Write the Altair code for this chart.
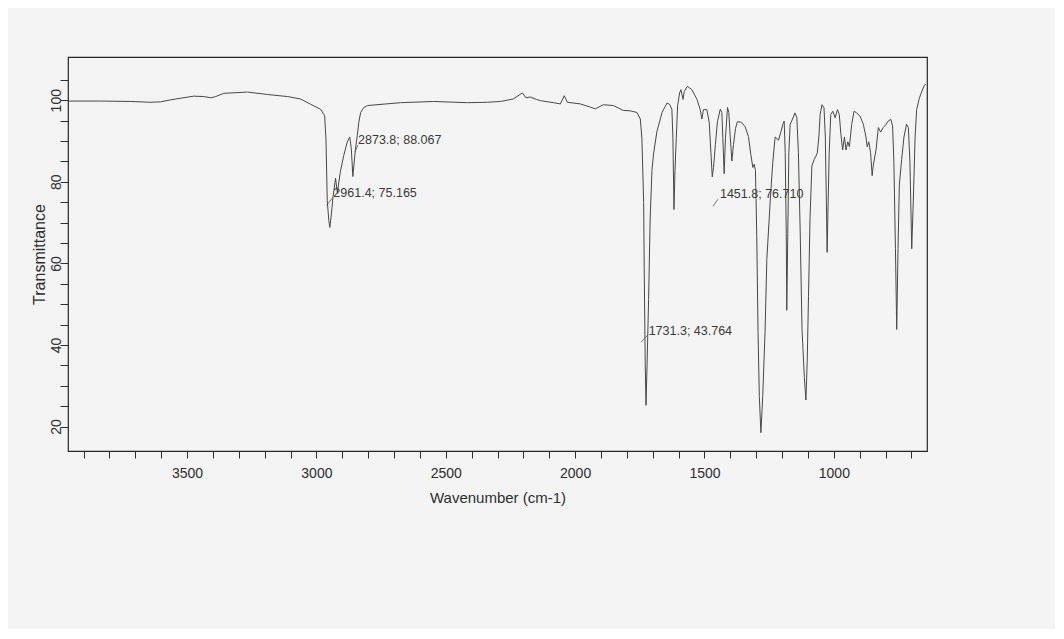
import altair as alt
import pandas as pd

# ---- spectrum ----
wavenumber = [
    3960, 3833, 3717, 3640, 3602, 3563, 3474, 3435, 3408, 3389, 3358, 3266, 3188, 3111, 3061,
    3022, 2984, 2968, 2963, 2958, 2952, 2948, 2942, 2936, 2926, 2919, 2907, 2894, 2881, 2871,
    2865, 2859, 2855, 2849, 2842, 2836, 2829, 2817, 2802, 2675, 2547, 2416, 2339, 2289, 2239,
    2204, 2190, 2173, 2150, 2134, 2084, 2057, 2042, 2030, 1980, 1941, 1922, 1891, 1852, 1814,
    1787, 1761, 1748, 1742, 1735, 1733, 1729, 1726, 1722, 1716, 1710, 1703, 1697, 1684, 1664,
    1645, 1635, 1626, 1622, 1618, 1614, 1609, 1604, 1596, 1591, 1583, 1578, 1566, 1549, 1529,
    1517, 1510, 1504, 1491, 1482, 1474, 1470, 1465, 1458, 1450, 1439, 1433, 1429, 1424, 1419,
    1411, 1406, 1401, 1394, 1388, 1380, 1373, 1362, 1353, 1343, 1330, 1321, 1313, 1308, 1303,
    1298, 1293, 1288, 1282, 1275, 1266, 1259, 1246, 1236, 1227, 1214, 1205, 1197, 1192, 1188,
    1184, 1182, 1178, 1174, 1169, 1163, 1150, 1143, 1137, 1130, 1123, 1114, 1108, 1103, 1098,
    1092, 1085, 1076, 1069, 1064, 1058, 1053, 1046, 1038, 1033, 1029, 1026, 1022, 1018, 1012,
    1004, 995, 986, 979, 973, 966, 959, 953, 946, 940, 931, 922, 912, 899, 886,
    876, 871, 865, 858, 852, 848, 837, 828, 819, 809, 798, 790, 780, 773, 768,
    762, 757, 752, 747, 738, 729, 719, 712, 706, 699, 693, 686, 680, 670, 661,
    651, 644,
]
transmittance = [
    99.8, 99.8, 99.7, 99.5, 99.6, 100.1, 101.0, 100.9, 100.6, 100.9, 101.7, 102.0, 101.4, 100.9, 100.3,
    99.0, 97.8, 96.2, 90.5, 75.4, 70.5, 68.8, 72.1, 76.1, 80.9, 77.3, 82.6, 86.5, 89.7, 91.0,
    88.1, 81.3, 84.1, 88.1, 91.3, 94.6, 97.0, 98.2, 98.7, 99.4, 99.7, 99.4, 99.5, 99.7, 100.3,
    101.8, 100.6, 100.8, 100.2, 99.9, 99.4, 99.1, 101.1, 99.5, 99.1, 98.3, 97.9, 98.9, 98.7, 97.5,
    97.4, 97.0, 95.4, 90.7, 74.9, 58.9, 35.1, 25.2, 35.1, 51.1, 70.9, 82.8, 86.8, 92.3, 97.0,
    99.3, 99.0, 97.8, 90.7, 73.2, 82.8, 90.7, 98.6, 101.8, 102.6, 100.2, 102.2, 103.4, 102.6, 100.2,
    97.8, 95.4, 97.7, 97.7, 94.7, 85.9, 81.2, 83.5, 89.1, 94.7, 97.8, 97.0, 90.7, 82.0, 90.7,
    98.2, 97.0, 91.5, 85.1, 89.1, 93.1, 94.7, 94.7, 94.3, 93.5, 91.1, 86.7, 83.5, 84.3, 82.8,
    66.9, 43.1, 27.3, 18.5, 27.3, 43.1, 61.0, 75.3, 84.8, 91.0, 90.2, 92.2, 94.1, 94.9, 87.1,
    67.4, 48.5, 67.4, 87.1, 94.1, 94.9, 96.9, 95.7, 87.1, 67.4, 43.8, 32.0, 26.5, 36.0, 51.8,
    71.3, 83.9, 85.5, 86.3, 87.1, 91.0, 96.5, 98.9, 98.1, 91.0, 75.3, 62.7, 75.3, 87.1, 96.5,
    97.3, 95.7, 97.7, 96.5, 91.8, 87.8, 91.0, 87.8, 89.8, 88.6, 94.1, 97.3, 96.9, 96.1, 94.1,
    91.0, 88.6, 89.8, 87.1, 81.5, 83.9, 87.8, 93.3, 92.2, 93.3, 94.1, 94.9, 95.3, 93.7, 84.8,
    63.6, 43.8, 63.6, 79.2, 85.5, 91.0, 94.1, 93.3, 84.8, 63.6, 75.3, 91.0, 97.7, 100.4, 102.0,
    103.6, 104.0,
]

# ---- peak annotations ----
ann_labels = ["2873.8; 88.067", "2961.4; 75.165", "1451.8; 76.710", "1731.3; 43.764"]
ann_wn = [2873.8, 2961.4, 1451.8, 1731.3]
ann_t = [88.067, 75.165, 76.710, 43.764]

# ---- axis ticks ----
x_ticks = list(range(3900, 600, -100))
y_ticks = list(range(20, 110, 5))

FONT = "Liberation Sans"
INK = "#2e2e2e"

df = pd.DataFrame({"wn": wavenumber, "T": transmittance})

x_enc = alt.X(
    "wn:Q",
    scale=alt.Scale(domain=[640, 3960], reverse=True, nice=False, zero=False),
    axis=alt.Axis(
        values=x_ticks, format="d",
        labelExpr="datum.value % 500 == 0 ? datum.label : ''",
        tickSize=7, tickColor=INK, tickWidth=1, domain=False, grid=False,
        labelFont=FONT, labelFontSize=14, labelColor=INK, labelPadding=8,
        title="Wavenumber (cm-1)", titleFont=FONT, titleFontSize=15,
        titleFontWeight="normal", titleColor=INK, titlePadding=10,
    ),
)
y_enc = alt.Y(
    "T:Q",
    scale=alt.Scale(domain=[14, 110.6], nice=False, zero=False),
    axis=alt.Axis(
        values=y_ticks, format="d",
        labelExpr="datum.value % 20 == 0 ? datum.label : ''",
        labelAngle=270, labelAlign="center", labelBaseline="alphabetic",
        tickSize=8, tickColor=INK, tickWidth=1, domain=False, grid=False,
        labelFont=FONT, labelFontSize=14, labelColor=INK, labelPadding=0,
        title="Transmittance", titleFont=FONT, titleFontSize=16,
        titleFontWeight="normal", titleColor=INK, titlePadding=2,
    ),
)

line = alt.Chart(df).mark_line(color="#484848", strokeWidth=1, clip=True).encode(
    x=x_enc, y=y_enc
)

# per-annotation styling: text dx, dy; leader offsets (x1, y1, x2, y2)
ann_style = [
    (9, -9, 6, 3, 9, -4),
    (7, -9, 0, 4, 6.5, -4),
    (3, -1, -4, 11, 1, 4),
    (4, 1, -3.5, 12.5, 3.5, 5),
]

layers = [line]
for lab, w, t, (dx, dy, lx1, ly1, lx2, ly2) in zip(ann_labels, ann_wn, ann_t, ann_style):
    d = pd.DataFrame({"wn": [w], "T": [t], "label": [lab]})
    base = alt.Chart(d)
    layers.append(
        base.mark_text(
            align="left", baseline="middle", dx=dx, dy=dy,
            font=FONT, fontSize=12.5, color="#3a3a3a",
        ).encode(x=x_enc, y=y_enc, text="label:N")
    )
    layers.append(
        base.mark_rule(
            color="#555555", strokeWidth=0.8,
            xOffset=lx1, yOffset=ly1, x2Offset=lx2, y2Offset=ly2,
        ).encode(x=x_enc, y=y_enc, x2="wn:Q", y2="T:Q")
    )

chart = (
    alt.layer(*layers)
    .properties(
        width=859,
        height=394,
        autosize=alt.AutoSizeParams(type="none"),
        padding={"left": 60, "top": 49, "right": 128, "bottom": 178},
        background="#f4f4f4",
    )
    .configure_view(stroke="#262626", strokeWidth=1.2)
)

chart.save("out.html", embed_options={"renderer": "svg", "actions": False})
